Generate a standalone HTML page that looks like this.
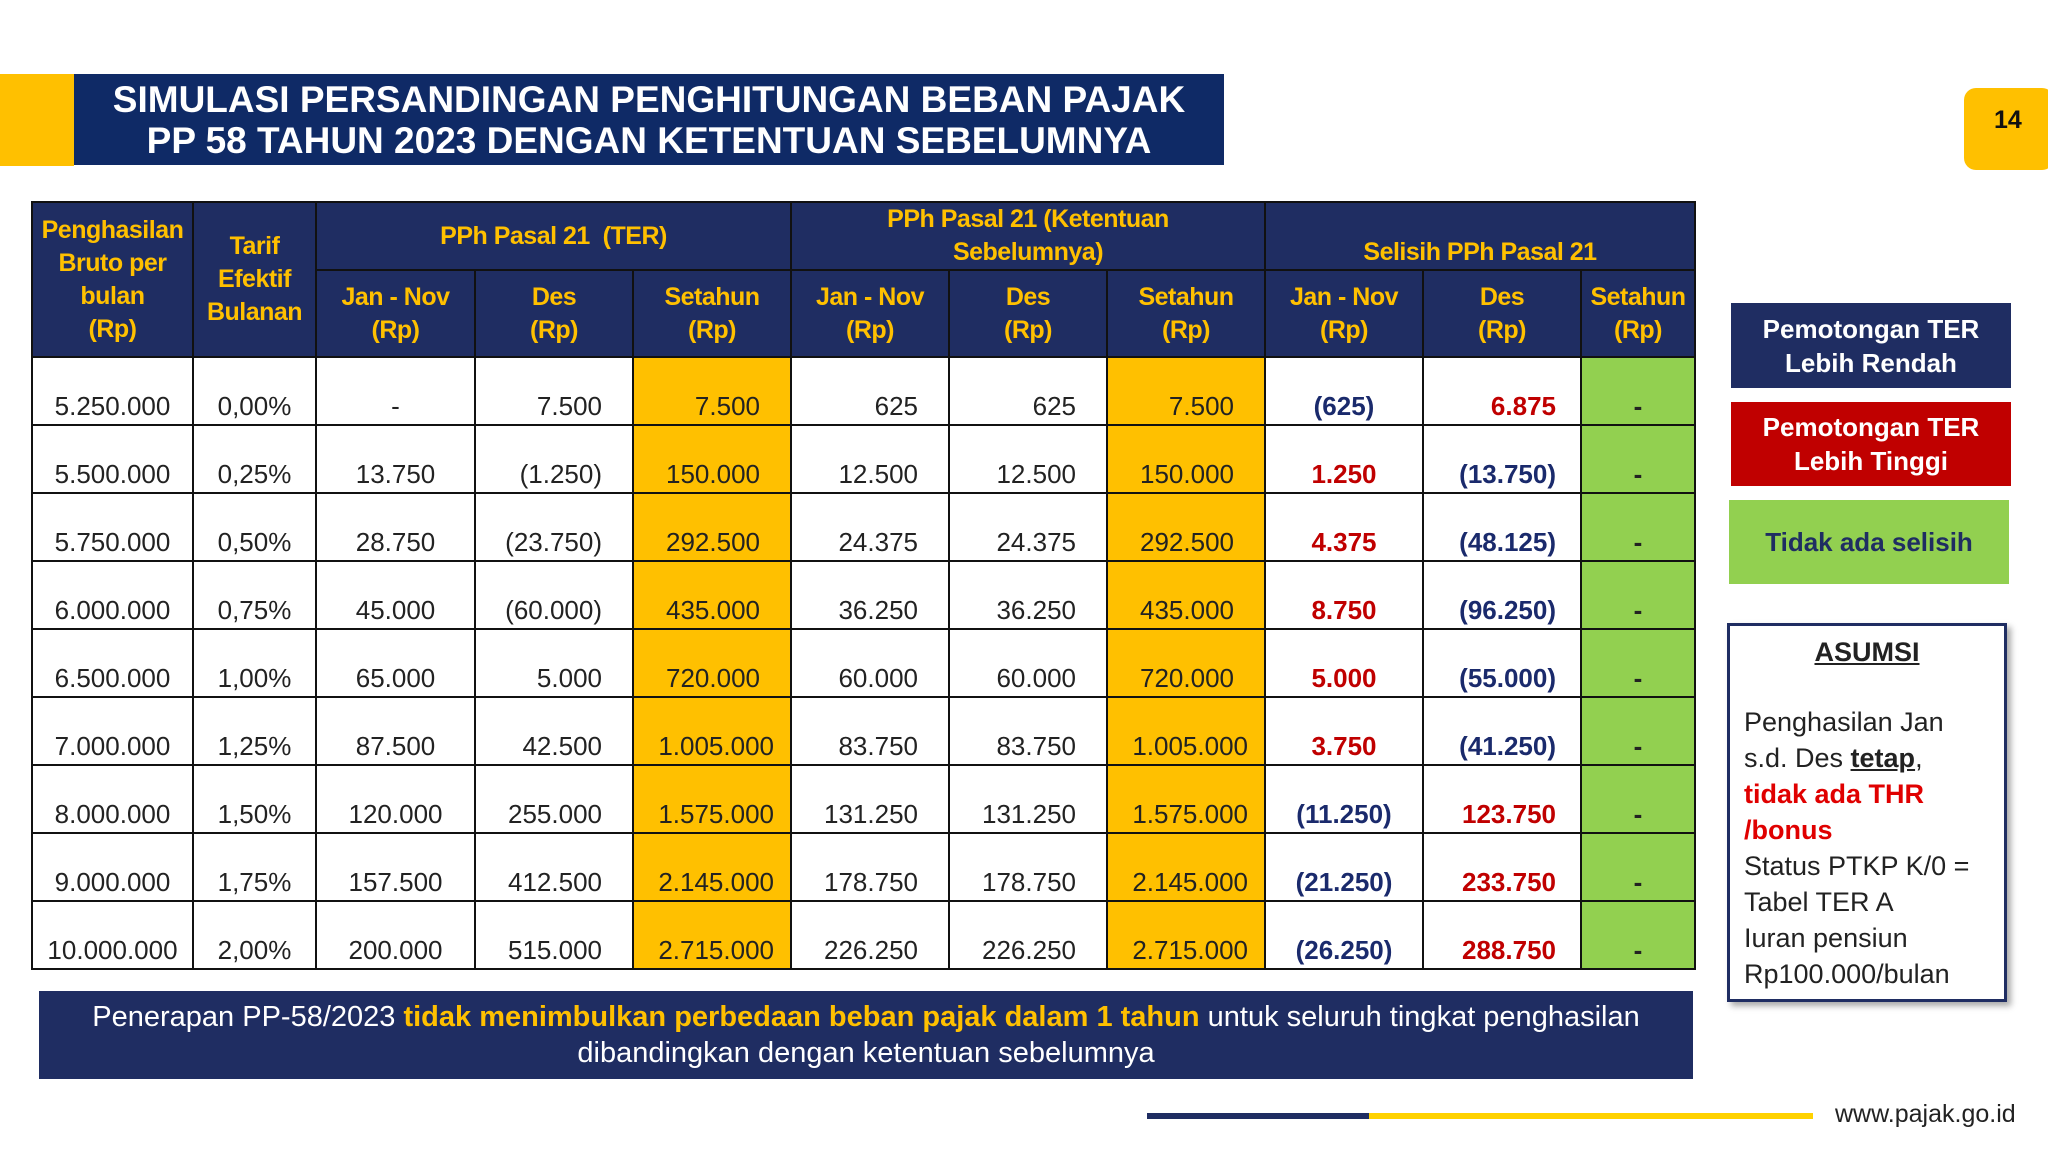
<!DOCTYPE html>
<html><head><meta charset="utf-8">
<style>
*{margin:0;padding:0;box-sizing:border-box}
body{width:2048px;height:1152px;background:#fff;position:relative;overflow:hidden;font-family:"Liberation Sans",sans-serif}
.abs{position:absolute}
#title{left:74px;top:74px;width:1150px;height:91px;background:#0f2a66;color:#fff;font-weight:bold;font-size:37px;text-align:center;line-height:41px;padding-top:5px}
table{position:absolute;left:31px;top:201px;border-collapse:collapse;table-layout:fixed}
td,th{border:2px solid #111;font-size:26px}
th{background:#1f2d62;color:#ffc000;font-weight:bold;font-size:25px;line-height:33px;letter-spacing:-0.5px}
td{height:68px;vertical-align:bottom;padding-bottom:2px;color:#222;text-align:center}
td.r{text-align:right;padding-right:30px}
.y{background:#ffc000}
.g{background:#92d050;font-weight:bold}
.bl{color:#1a2a6c;font-weight:bold}
.rd{color:#c00000;font-weight:bold}
.leg{color:#fff;font-weight:bold;font-size:26px;text-align:center;line-height:34px;display:flex;align-items:center;justify-content:center}
</style></head><body>
<div class="abs" style="left:0;top:74px;width:74px;height:92px;background:#ffc000"></div>
<div id="title" class="abs">SIMULASI PERSANDINGAN PENGHITUNGAN BEBAN PAJAK<br>PP 58 TAHUN 2023 DENGAN KETENTUAN SEBELUMNYA</div>
<div class="abs" style="left:1964px;top:88px;width:90px;height:82px;background:#ffc000;border-radius:12px;font-weight:bold;font-size:25px;padding:18px 0 0 30px;color:#111">14</div>

<table>
<colgroup><col style="width:161px"><col style="width:123px"><col style="width:159px"><col style="width:158px"><col style="width:158px"><col style="width:158px"><col style="width:158px"><col style="width:158px"><col style="width:158px"><col style="width:158px"><col style="width:114px"></colgroup>
<tr style="height:66px">
<th rowspan="2">Penghasilan<br>Bruto per<br>bulan<br>(Rp)</th>
<th rowspan="2">Tarif<br>Efektif<br>Bulanan</th>
<th colspan="3">PPh Pasal 21&nbsp; (TER)</th>
<th colspan="3">PPh Pasal 21 (Ketentuan<br>Sebelumnya)</th>
<th colspan="3" style="vertical-align:bottom">Selisih PPh Pasal 21</th>
</tr>
<tr style="height:87px">
<th>Jan - Nov<br>(Rp)</th><th>Des<br>(Rp)</th><th>Setahun<br>(Rp)</th>
<th>Jan - Nov<br>(Rp)</th><th>Des<br>(Rp)</th><th>Setahun<br>(Rp)</th>
<th>Jan - Nov<br>(Rp)</th><th>Des<br>(Rp)</th><th>Setahun<br>(Rp)</th>
</tr>
<tr><td>5.250.000</td><td>0,00%</td><td>-</td><td class="r">7.500</td><td class="r y">7.500</td><td class="r">625</td><td class="r">625</td><td class="r y">7.500</td><td class="bl">(625)</td><td class="r rd" style="padding-right:24px">6.875</td><td class="g">-</td></tr>
<tr><td>5.500.000</td><td>0,25%</td><td>13.750</td><td class="r">(1.250)</td><td class="r y">150.000</td><td class="r">12.500</td><td class="r">12.500</td><td class="r y">150.000</td><td class="rd">1.250</td><td class="r bl" style="padding-right:24px">(13.750)</td><td class="g">-</td></tr>
<tr><td>5.750.000</td><td>0,50%</td><td>28.750</td><td class="r">(23.750)</td><td class="r y">292.500</td><td class="r">24.375</td><td class="r">24.375</td><td class="r y">292.500</td><td class="rd">4.375</td><td class="r bl" style="padding-right:24px">(48.125)</td><td class="g">-</td></tr>
<tr><td>6.000.000</td><td>0,75%</td><td>45.000</td><td class="r">(60.000)</td><td class="r y">435.000</td><td class="r">36.250</td><td class="r">36.250</td><td class="r y">435.000</td><td class="rd">8.750</td><td class="r bl" style="padding-right:24px">(96.250)</td><td class="g">-</td></tr>
<tr><td>6.500.000</td><td>1,00%</td><td>65.000</td><td class="r">5.000</td><td class="r y">720.000</td><td class="r">60.000</td><td class="r">60.000</td><td class="r y">720.000</td><td class="rd">5.000</td><td class="r bl" style="padding-right:24px">(55.000)</td><td class="g">-</td></tr>
<tr><td>7.000.000</td><td>1,25%</td><td>87.500</td><td class="r">42.500</td><td class="r y" style="padding-right:16px">1.005.000</td><td class="r">83.750</td><td class="r">83.750</td><td class="r y" style="padding-right:16px">1.005.000</td><td class="rd">3.750</td><td class="r bl" style="padding-right:24px">(41.250)</td><td class="g">-</td></tr>
<tr><td>8.000.000</td><td>1,50%</td><td>120.000</td><td class="r">255.000</td><td class="r y" style="padding-right:16px">1.575.000</td><td class="r">131.250</td><td class="r">131.250</td><td class="r y" style="padding-right:16px">1.575.000</td><td class="bl">(11.250)</td><td class="r rd" style="padding-right:24px">123.750</td><td class="g">-</td></tr>
<tr><td>9.000.000</td><td>1,75%</td><td>157.500</td><td class="r">412.500</td><td class="r y" style="padding-right:16px">2.145.000</td><td class="r">178.750</td><td class="r">178.750</td><td class="r y" style="padding-right:16px">2.145.000</td><td class="bl">(21.250)</td><td class="r rd" style="padding-right:24px">233.750</td><td class="g">-</td></tr>
<tr><td>10.000.000</td><td>2,00%</td><td>200.000</td><td class="r">515.000</td><td class="r y" style="padding-right:16px">2.715.000</td><td class="r">226.250</td><td class="r">226.250</td><td class="r y" style="padding-right:16px">2.715.000</td><td class="bl">(26.250)</td><td class="r rd" style="padding-right:24px">288.750</td><td class="g">-</td></tr>
</table>

<div class="abs leg" style="left:1731px;top:303px;width:280px;height:85px;background:#1f2d62">Pemotongan TER<br>Lebih Rendah</div>
<div class="abs leg" style="left:1731px;top:402px;width:280px;height:84px;background:#c00000">Pemotongan TER<br>Lebih Tinggi</div>
<div class="abs leg" style="left:1729px;top:500px;width:280px;height:84px;background:#92d050;color:#1f2d62">Tidak ada selisih</div>

<div class="abs" style="left:1727px;top:623px;width:280px;height:379px;border:3px solid #1f2d62;box-shadow:4px 4px 6px #aaa;font-size:27px;line-height:36px;color:#222;padding:8px 0 0 14px">
<div style="text-align:center;font-weight:bold;text-decoration:underline;margin-left:-14px;margin-bottom:34px">ASUMSI</div>
Penghasilan Jan<br>s.d. Des <b style="text-decoration:underline">tetap</b>,<br><b style="color:#e00000">tidak ada THR<br>/bonus</b><br>Status PTKP K/0 =<br>Tabel TER A<br>Iuran pensiun<br>Rp100.000/bulan
</div>

<div class="abs" style="left:39px;top:991px;width:1654px;height:88px;background:#1f2d62;color:#fff;font-size:29px;line-height:36px;text-align:center;padding-top:8px">Penerapan PP-58/2023 <b style="color:#ffc000">tidak menimbulkan perbedaan beban pajak dalam 1 tahun</b> untuk seluruh tingkat penghasilan<br>dibandingkan dengan ketentuan sebelumnya</div>

<div class="abs" style="left:1147px;top:1113px;width:222px;height:6px;background:#1f2d62"></div>
<div class="abs" style="left:1369px;top:1113px;width:444px;height:6px;background:#ffd200"></div>
<div class="abs" style="left:1835px;top:1100px;font-size:25px;color:#222">www.pajak.go.id</div>
</body></html>
